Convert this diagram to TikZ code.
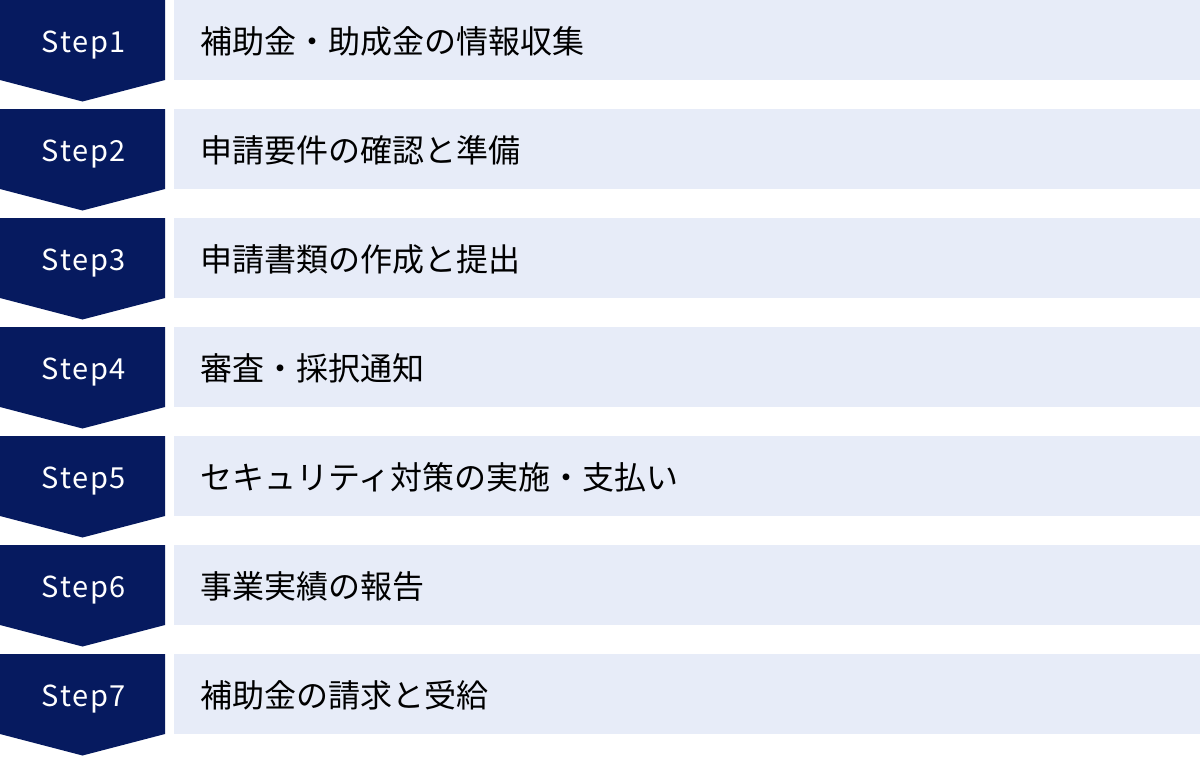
\documentclass[tikz,border=0pt]{standalone}
\usepackage{fontspec}
\setmainfont{Noto Sans CJK JP}
\newfontfamily\stepfont[LetterSpace=6]{Noto Sans CJK JP}
\definecolor{navy}{HTML}{061A5F}
\definecolor{barblue}{HTML}{E7ECF8}
\begin{document}
\begin{tikzpicture}[x=1pt,y=-1pt,
  stepshape/.style={fill=navy,draw=none},
  barshape/.style={fill=barblue,draw=none},
  steplabel/.style={text=white,inner sep=0pt,font=\stepfont\fontsize{29pt}{32pt}\selectfont,anchor=base},
  barlabel/.style={text=black,inner sep=0pt,font=\fontsize{32pt}{36pt}\selectfont,anchor=base west}]
\useasboundingbox (0,0) rectangle (1200,756);
\fill[white] (0,0) rectangle (1200,756);
\foreach \i/\t in {1/補助金・助成金の情報収集,2/申請要件の確認と準備,3/申請書類の作成と提出,4/審査・採択通知,5/セキュリティ対策の実施・支払い,6/事業実績の報告,7/補助金の請求と受給}{
  \pgfmathsetmacro{\top}{(\i-1)*109}
  \path[stepshape] (0,\top) -- (165,\top) -- (165,\top+80) -- (82.5,\top+101.5) -- (0,\top+80) -- cycle;
  \path[barshape] (174,\top) rectangle (1200,\top+80);
  \node[steplabel] (s\i) at (84,\top+52.3) {Step\i};
  \node[barlabel] (b\i) at (200,\top+53) {\t};
}
\end{tikzpicture}
\end{document}
